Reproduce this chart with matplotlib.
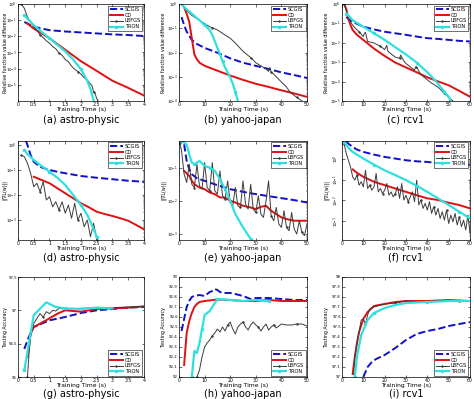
import numpy as np
import matplotlib
matplotlib.use("Agg")
import matplotlib.pyplot as plt

# ---- (a) astro-physic, relative function value difference (log10 exponents)
a_scgis_x = [0.2, 0.5, 1, 1.5, 2, 2.5, 3, 3.5, 4]
a_scgis_e = [-1.11, -1.41, -1.62, -1.70, -1.76, -1.82, -1.88, -1.92, -1.98]
a_cd_x = [0.3, 0.5, 0.75, 1, 1.5, 2, 2.5, 3, 3.5, 4]
a_cd_e = [-1.21, -1.52, -1.82, -2.12, -2.83, -3.54, -4.14, -4.75, -5.19, -5.66]
a_lbfgs_x = [0.1, 0.2, 0.3, 0.4, 0.5, 0.6, 0.7, 0.8, 0.9, 1.0, 1.1, 1.2, 1.3, 1.4,
             1.5, 1.6, 1.7, 1.8, 1.9, 2.0, 2.1, 2.2, 2.3, 2.35, 2.4, 2.45, 2.5, 2.55]
a_lbfgs_e = [0, -0.26, -0.81, -1.11, -1.41, -1.62, -1.92, -2.08, -2.28, -2.42, -2.63,
             -2.77, -3.03, -3.17, -3.43, -3.58, -3.84, -4.04, -4.18, -4.34, -4.55,
             -4.71, -4.95, -5.05, -5.45, -5.56, -5.86, -6.0]
a_tron_x = [0.2, 0.3, 0.5, 0.75, 1, 1.25, 1.5, 1.75, 2, 2.2, 2.3, 2.4]
a_tron_e = [-0.71, -0.91, -1.31, -1.72, -2.12, -2.53, -2.93, -3.43, -4.04, -4.75, -5.25, -5.96]

# ---- (b) yahoo-japan
b_scgis_x = [1, 2, 3, 5, 7, 10, 15, 20, 25, 30, 35, 40, 45, 50]
b_scgis_e = [-0.54, -0.87, -1.14, -1.48, -1.65, -1.81, -2.01, -2.24, -2.42, -2.55,
             -2.68, -2.82, -2.93, -3.05]
b_cd_x = [2, 3, 4, 5, 6, 7, 8, 10, 15, 20, 25, 30, 35, 40, 45, 50]
b_cd_e = [-0.13, -0.40, -0.74, -1.41, -2.08, -2.28, -2.42, -2.55, -2.75, -2.95, -3.13,
          -3.29, -3.42, -3.56, -3.69, -3.83]
b_lbfgs_x = [1, 3, 5, 8, 10, 12, 13, 15, 18, 20, 22, 25, 28, 30, 32, 34, 35, 35.5, 36,
             37, 40, 42, 43, 44, 46, 48]
b_lbfgs_e = [0, -0.27, -0.47, -0.67, -0.81, -0.94, -0.98, -1.07, -1.28, -1.41, -1.61,
             -1.95, -2.21, -2.42, -2.55, -2.68, -2.78, -2.62, -2.82, -2.89, -3.22,
             -3.42, -3.58, -3.69, -3.85, -4.0]
b_tron_x = [1, 2, 5, 8, 10, 12, 13, 15, 17, 18, 20, 21, 22, 23]
b_tron_e = [0, -0.13, -0.40, -0.67, -0.87, -1.07, -1.28, -1.81, -2.35, -2.62, -3.02,
            -3.29, -3.62, -4.0]

# ---- (c) rcv1
c_scgis_x = [2, 3, 5, 10, 15, 20, 25, 30, 35, 40, 45, 50, 55, 60]
c_scgis_e = [-0.67, -0.76, -0.92, -1.17, -1.31, -1.43, -1.51, -1.59, -1.68, -1.76,
             -1.80, -1.85, -1.90, -1.93]
c_cd_x = [1, 2, 3, 4, 5, 7, 10, 15, 20, 25, 30, 35, 40, 45, 50, 55, 60]
c_cd_e = [0, -0.25, -0.76, -1.09, -1.34, -1.59, -1.85, -2.30, -2.68, -3.02, -3.27,
          -3.52, -3.78, -3.99, -4.19, -4.48, -4.78]
c_lbfgs_x = [1, 2, 3, 4, 5, 6, 8, 10, 10.5, 11, 12, 15, 18, 20, 21, 21.5, 23, 25, 27,
             27.5, 29, 30, 32, 34, 34.5, 35, 37, 40, 42, 45, 48, 50, 52]
c_lbfgs_e = [0, -0.34, -0.76, -0.92, -1.09, -1.22, -1.43, -1.68, -1.51, -1.46, -1.93,
             -2.01, -2.18, -2.35, -2.13, -2.43, -2.57, -2.74, -2.80, -2.63, -2.94,
             -3.07, -3.24, -3.41, -3.24, -3.27, -3.64, -3.91, -4.08, -4.28, -4.61,
             -4.81, -5.0]
c_tron_x = [2, 3, 5, 10, 15, 20, 25, 30, 35, 40, 42, 45, 48, 50, 51]
c_tron_e = [-0.50, -0.59, -0.84, -1.17, -1.51, -1.85, -2.23, -2.60, -3.02, -3.52,
            -3.74, -4.11, -4.53, -4.78, -5.0]

# ---- (d) astro-physic, gradient norm
d_scgis_x = [0.25, 0.3, 0.4, 0.5, 0.6, 0.7, 0.8, 1, 1.25, 1.5, 2, 2.5, 3, 3.5, 4]
d_scgis_e = [0.17, 0, -0.4, -0.67, -0.77, -0.87, -0.92, -1.0, -1.07, -1.13, -1.24,
             -1.31, -1.37, -1.43, -1.47]
d_cd_x = [0.5, 0.75, 1, 1.25, 1.5, 1.75, 2, 2.25, 2.5, 2.75, 3, 3.25, 3.5, 3.75, 4]
d_cd_e = [-1.27, -1.4, -1.53, -1.73, -1.93, -2.13, -2.33, -2.49, -2.67, -2.76, -2.84,
          -2.93, -3.03, -3.2, -3.37]
d_lbfgs_x = [0.1, 0.2, 0.3, 0.4, 0.5, 0.6, 0.7, 0.8, 0.9, 1.0, 1.1, 1.2, 1.3, 1.4,
             1.5, 1.6, 1.7, 1.8, 1.9, 2.0, 2.1, 2.2, 2.3, 2.4, 2.5]
d_lbfgs_e = [-0.4, -0.47, -0.73, -1.13, -1.67, -1.53, -1.87, -1.47, -2.2, -2.07,
             -2.47, -2.27, -2.6, -2.27, -2.73, -2.4, -2.93, -2.33, -3.0, -2.73,
             -3.27, -3.0, -3.67, -3.13, -3.8]
d_tron_x = [0.2, 0.3, 0.5, 0.75, 1, 1.25, 1.5, 1.75, 2, 2.2, 2.3, 2.4, 2.5]
d_tron_e = [-0.2, -0.36, -0.6, -0.84, -1.07, -1.31, -1.6, -2.0, -2.4, -2.8, -3.07,
            -3.37, -3.67]

# ---- (e) yahoo-japan
e_scgis_x = [2, 3, 4, 5, 7, 10, 15, 20, 25, 30, 35, 40, 45, 50]
e_scgis_e = [-0.3, -0.8, -1.05, -1.2, -1.32, -1.4, -1.53, -1.65, -1.73, -1.8, -1.86,
             -1.92, -1.98, -2.05]
e_cd_x = [2, 4, 5, 6, 8, 10, 12, 14, 16, 18, 20, 22, 25, 28, 30, 32, 34, 36, 38, 40,
          42, 45, 48, 50]
e_cd_e = [-1.1, -1.25, -1.4, -1.5, -1.6, -1.65, -1.75, -1.8, -1.9, -1.9, -2.0, -2.05,
          -2.15, -2.2, -2.25, -2.18, -2.15, -2.3, -2.4, -2.5, -2.55, -2.6, -2.6, -2.6]
e_lbfgs_x = [0.3] + list(range(1, 51))
e_lbfgs_e = [-0.25, -0.5, -1.2, -1.45, -0.9, -1.5, -1.6, -0.9, -1.55, -1.65,
             -0.85, -1.6, -1.7, -0.85, -1.7, -1.8, -1.1, -1.85, -1.95, -1.4,
             -2.05, -2.15, -1.6, -2.15, -2.2, -1.4, -2.1, -2.25, -1.5, -2.25,
             -2.35, -1.85, -2.4, -2.5, -2.0, -1.4, -2.45, -2.6, -2.2, -2.7,
             -2.8, -2.3, -2.8, -2.9, -2.35, -2.85, -3.0, -2.6, -2.95, -3.05, -2.7]
e_tron_x = [1, 3, 4, 5, 6, 7, 8, 10, 12, 13, 14, 16, 18, 20, 22, 25, 28]
e_tron_e = [-0.2, -0.3, -0.6, -0.85, -0.9, -0.85, -0.8, -0.95, -1.0, -1.05, -1.1,
            -1.35, -1.65, -2.0, -2.4, -2.8, -3.15]

# ---- (f) rcv1
f_scgis_x = [2, 3, 5, 7, 10, 15, 20, 25, 30, 35, 40, 45, 50, 55, 60]
f_scgis_e = [0.84, 0.71, 0.56, 0.43, 0.32, 0.19, 0.08, 0, -0.08, -0.13, -0.16, -0.21,
             -0.24, -0.27, -0.29]
f_cd_x = [5, 7, 10, 15, 20, 25, 30, 35, 40, 45, 50, 55, 60]
f_cd_e = [-0.52, -0.68, -0.87, -1.11, -1.27, -1.43, -1.59, -1.75, -1.9, -1.98, -2.11,
          -2.22, -2.38]
f_lbfgs_x = list(range(1, 61))
f_lbfgs_e = [0.71, 0.24, -0.08, -0.40, -0.87, -1.03, -0.79, -1.27, -1.11, -1.35,
             -0.56, -1.43, -1.27, -1.51, -1.35, -0.71, -1.59, -1.43, -1.67, -1.51,
             -1.19, -1.75, -1.59, -1.83, -1.67, -1.35, -1.90, -1.19, -1.98, -1.75,
             -2.06, -1.83, -1.59, -2.06, -1.03, -2.22, -1.98, -2.38, -2.14, -2.46,
             -2.06, -2.62, -2.30, -2.70, -2.38, -2.86, -2.54, -2.94, -2.46, -3.10,
             -2.70, -3.02, -2.62, -3.17, -2.78, -3.25, -2.94, -3.41, -2.70, -3.57]
f_tron_x = [1, 3, 5, 10, 15, 20, 25, 30, 35, 40, 45, 50, 55, 60]
f_tron_e = [0.79, 0.52, 0.32, 0, -0.29, -0.56, -0.79, -1.03, -1.3, -1.59, -1.9, -2.22,
            -2.54, -2.86]

# ---- (g) astro-physic, testing accuracy
g_scgis_x = [0.2, 0.3, 0.4, 0.5, 0.75, 1, 1.5, 2, 2.5, 3, 3.5, 4]
g_scgis_y = [96.42, 96.55, 96.66, 96.75, 96.8, 96.85, 96.9, 96.96, 97.0, 97.02, 97.04, 97.05]
g_cd_x = [0.3, 0.4, 0.5, 0.7, 1, 1.25, 1.5, 2, 2.5, 3, 3.5, 4]
g_cd_y = [96.3, 96.65, 96.75, 96.8, 96.88, 96.95, 97.0, 96.98, 97.02, 97.03, 97.04, 97.06]
g_lbfgs_x = [0.3, 0.35, 0.4, 0.5, 0.6, 0.7, 0.8, 0.9, 1.0, 1.1, 1.2, 1.3, 1.5, 2, 2.5,
             3, 3.5, 4]
g_lbfgs_y = [96.0, 96.35, 96.6, 96.8, 96.88, 96.95, 96.9, 96.98, 96.95, 97.0, 96.99,
             97.03, 97.02, 97.03, 97.04, 97.04, 97.05, 97.06]
g_tron_x = [0.2, 0.5, 0.9, 1.2, 1.5, 2, 2.5, 3]
g_tron_y = [96.1, 96.93, 97.12, 97.05, 97.03, 97.02, 97.04, 97.03]

# ---- (h) yahoo-japan
h_scgis_x = [1, 2, 3, 4, 5, 6, 8, 10, 11, 12, 13, 14, 15, 16, 18, 20, 22, 25, 28, 30,
             35, 40, 45, 50]
h_scgis_y = [92.46, 92.58, 92.7, 92.76, 92.8, 92.81, 92.82, 92.81, 92.83, 92.85, 92.86,
             92.88, 92.87, 92.85, 92.84, 92.84, 92.83, 92.81, 92.78, 92.79, 92.79,
             92.78, 92.77, 92.77]
h_cd_x = [2, 3, 4, 5, 6, 7, 8, 10, 15, 20, 25, 30, 35, 40, 45, 50]
h_cd_y = [92.12, 92.44, 92.56, 92.64, 92.7, 92.73, 92.75, 92.76, 92.775, 92.77, 92.76,
          92.76, 92.77, 92.76, 92.76, 92.76]
h_lbfgs_x = [7, 8, 9, 10, 11, 12, 13, 14, 15, 16, 17, 18, 19, 20, 21, 22, 23, 24, 25,
             26, 27, 28, 29, 30, 31, 32, 33, 34, 35, 36, 37, 38, 39, 40, 42, 44, 46,
             48, 50]
h_lbfgs_y = [92.0, 92.07, 92.2, 92.3, 92.34, 92.37, 92.41, 92.44, 92.48, 92.45, 92.5,
             92.46, 92.52, 92.55, 92.48, 92.43, 92.5, 92.53, 92.55, 92.5, 92.47, 92.52,
             92.55, 92.52, 92.5, 92.46, 92.5, 92.53, 92.47, 92.5, 92.52, 92.49, 92.51,
             92.53, 92.52, 92.52, 92.53, 92.53, 92.51]
h_tron_x = [5, 6, 7, 8, 9, 10, 12, 13, 15, 20, 25, 30, 35]
h_tron_y = [92.0, 92.26, 92.24, 92.34, 92.48, 92.62, 92.66, 92.7, 92.78, 92.77, 92.76,
            92.77, 92.76]

# ---- (i) rcv1
i_scgis_x = [10, 11, 12, 14, 16, 20, 25, 30, 35, 40, 45, 50, 55, 60]
i_scgis_y = [97.0, 97.05, 97.1, 97.15, 97.18, 97.22, 97.29, 97.37, 97.43, 97.46, 97.48,
             97.51, 97.53, 97.55]
i_cd_x = [5, 6, 7, 8, 10, 12, 15, 20, 25, 30, 40, 50, 60]
i_cd_y = [97.03, 97.2, 97.34, 97.45, 97.58, 97.65, 97.71, 97.73, 97.75, 97.76, 97.76,
          97.77, 97.76]
i_lbfgs_x = [5.5, 6, 7, 8, 9, 10, 11, 12, 13, 15, 18, 20, 25, 30, 35, 40, 45, 50, 55, 60]
i_lbfgs_y = [97.03, 97.2, 97.33, 97.45, 97.57, 97.58, 97.53, 97.62, 97.68, 97.7, 97.72,
             97.73, 97.74, 97.76, 97.75, 97.75, 97.76, 97.77, 97.76, 97.76]
i_tron_x = [6, 7, 9, 12, 15, 20, 25, 30, 40, 50, 60]
i_tron_y = [97.0, 97.2, 97.42, 97.57, 97.64, 97.69, 97.72, 97.74, 97.75, 97.76, 97.76]

labels = ["SCGIS", "CD", "LBFGS", "TRON"]
captions = ["(a) astro-physic", "(b) yahoo-japan", "(c) rcv1",
            "(d) astro-physic", "(e) yahoo-japan", "(f) rcv1",
            "(g) astro-physic", "(h) yahoo-japan", "(i) rcv1"]

W, H = 474, 399
fig = plt.figure(figsize=(W / 100, H / 100), dpi=100)

cols = [(18, 144), (179, 307), (342, 470)]
rows = [(4, 101), (141, 240), (277, 377)]
cap_y = [120, 258, 394]
ylab_x = [-0.083, -0.1, -0.1]


def make_ax(r, c):
    x0, x1 = cols[c]
    y0, y1 = rows[r]
    ax = fig.add_axes([x0 / W, 1 - y1 / H, (x1 - x0) / W, (y1 - y0) / H])
    ax.tick_params(direction="in", labelsize=3.3, length=1.8, width=0.4, pad=1.0,
                   top=True, right=True)
    ax.tick_params(axis="y", labelsize=2.8, pad=0.8)
    ax.tick_params(which="minor", direction="in", length=1.0, width=0.3,
                   top=True, right=True)
    for s in ax.spines.values():
        s.set_linewidth(0.5)
    ax.set_xlabel("Training Time (s)", fontsize=4.3, labelpad=0)
    ax.text(((x0 + x1) / 2) / W, 1 - cap_y[r] / H, captions[3 * r + c],
            transform=fig.transFigure, ha="center", va="center", fontsize=7)
    return ax


def draw(ax, series, log):
    styles = [dict(color="#1010c8", ls="--", lw=1.4),
              dict(color="#e01010", ls="-", lw=1.4),
              dict(color="#3c3c3c", ls="-", lw=0.7, marker="+", markersize=1.5, markevery=6),
              dict(color="#30e0e0", ls="-", lw=1.6, marker="*", markersize=2, markevery=4)]
    for (x, y), st, lab in zip(series, styles, labels):
        yy = 10.0 ** np.array(y) if log else np.array(y)
        ax.plot(x, yy, label=lab, **st)
    if log:
        ax.set_yscale("log")


panels = [
    [(a_scgis_x, a_scgis_e), (a_cd_x, a_cd_e), (a_lbfgs_x, a_lbfgs_e), (a_tron_x, a_tron_e)],
    [(b_scgis_x, b_scgis_e), (b_cd_x, b_cd_e), (b_lbfgs_x, b_lbfgs_e), (b_tron_x, b_tron_e)],
    [(c_scgis_x, c_scgis_e), (c_cd_x, c_cd_e), (c_lbfgs_x, c_lbfgs_e), (c_tron_x, c_tron_e)],
    [(d_scgis_x, d_scgis_e), (d_cd_x, d_cd_e), (d_lbfgs_x, d_lbfgs_e), (d_tron_x, d_tron_e)],
    [(e_scgis_x, e_scgis_e), (e_cd_x, e_cd_e), (e_lbfgs_x, e_lbfgs_e), (e_tron_x, e_tron_e)],
    [(f_scgis_x, f_scgis_e), (f_cd_x, f_cd_e), (f_lbfgs_x, f_lbfgs_e), (f_tron_x, f_tron_e)],
    [(g_scgis_x, g_scgis_y), (g_cd_x, g_cd_y), (g_lbfgs_x, g_lbfgs_y), (g_tron_x, g_tron_y)],
    [(h_scgis_x, h_scgis_y), (h_cd_x, h_cd_y), (h_lbfgs_x, h_lbfgs_y), (h_tron_x, h_tron_y)],
    [(i_scgis_x, i_scgis_y), (i_cd_x, i_cd_y), (i_lbfgs_x, i_lbfgs_y), (i_tron_x, i_tron_y)],
]

xmax = [4, 50, 60]
xticks = [[0, 0.5, 1, 1.5, 2, 2.5, 3, 3.5, 4], [0, 10, 20, 30, 40, 50],
          [0, 10, 20, 30, 40, 50, 60]]
log_ylim = [(-6, 0), (-4, 0), (-5, 0), (-3.8, 0.16), (-3.18, -0.2), (-3.89, 0.84)]
log_yticks = [[-5, -4, -3, -2, -1, 0], [-4, -3, -2, -1, 0], [-5, -4, -3, -2, -1, 0],
              [-3, -2, -1, 0], [-3, -2, -1], [-3, -2, -1, 0]]
ylabels = ["Relative function value difference", "||\u2207L(w)||", "Testing Accuracy"]
acc_ylim = [(96, 97.5), (92, 93), (97, 98)]
acc_ticks = [[96, 96.5, 97, 97.5], list(np.round(np.arange(92, 93.01, 0.1), 1)),
             list(np.round(np.arange(97, 98.01, 0.1), 1))]

legend_kw = dict(fontsize=3.6, frameon=True, fancybox=False, edgecolor="black",
                 framealpha=1, handlelength=2.6, labelspacing=0.15, borderpad=0.3,
                 borderaxespad=0.3, handletextpad=0.4)

for k, series in enumerate(panels):
    r, c = divmod(k, 3)
    ax = make_ax(r, c)
    log = r < 2
    draw(ax, series, log)
    ax.set_xlim(0, xmax[c])
    ax.set_xticks(xticks[c])
    ax.set_xticklabels([("%g" % t) for t in xticks[c]])
    ax.set_ylabel(ylabels[r], fontsize=3.4, labelpad=0)
    ax.yaxis.set_label_coords(ylab_x[c], 0.5)
    if log:
        lo, hi = log_ylim[k]
        ax.set_ylim(10.0 ** lo, 10.0 ** hi)
        ax.set_yticks([10.0 ** t for t in log_yticks[k]])
        ax.yaxis.set_minor_formatter(matplotlib.ticker.NullFormatter())
        if k == 5:
            for t in ax.get_yticklabels():
                t.set_rotation(90)
                t.set_va("center")
        leg = ax.legend(loc="upper right", **legend_kw)
    else:
        ax.set_ylim(*acc_ylim[c])
        ax.set_yticks(acc_ticks[c])
        ax.set_yticklabels([("%g" % t) for t in acc_ticks[c]])
        leg = ax.legend(loc="lower right", **legend_kw)
    leg.get_frame().set_linewidth(0.4)

fig.savefig("out.png", dpi=100)
